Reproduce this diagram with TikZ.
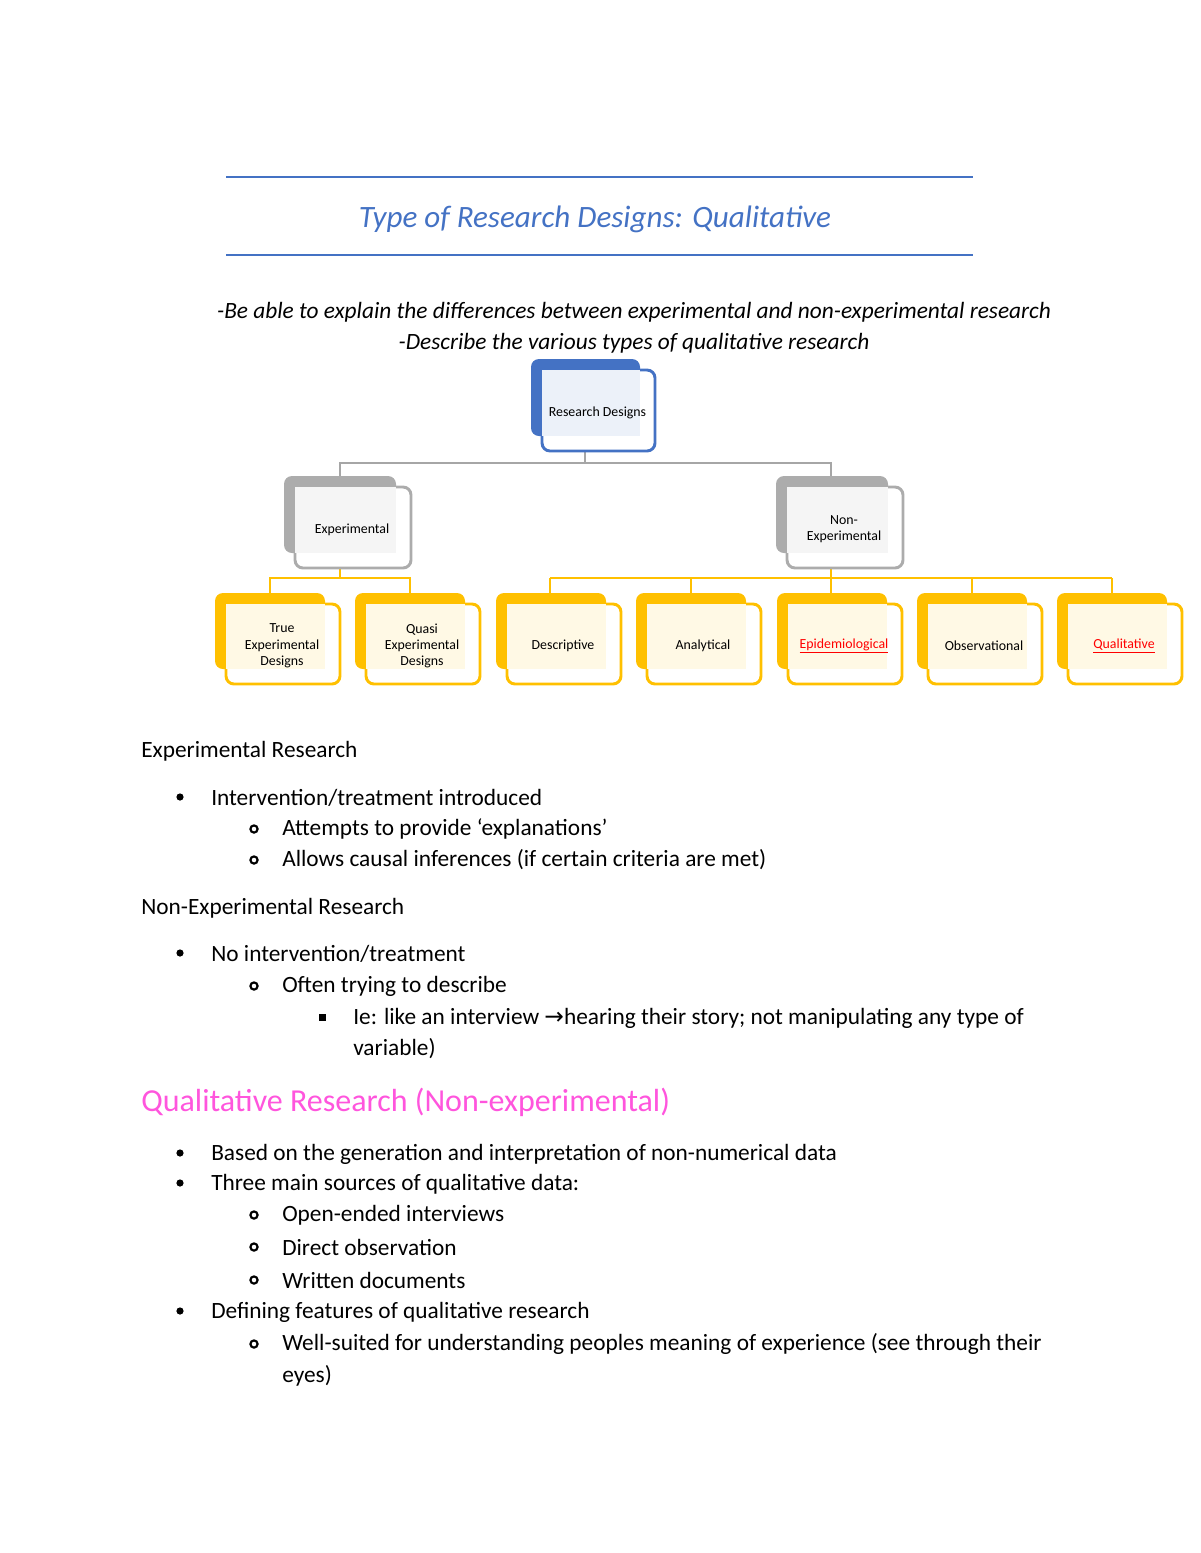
\documentclass[tikz,border=0pt]{standalone}
\usepackage{fontspec}
\setmainfont{Carlito}
\newfontfamily\djv{DejaVu Sans}
\begin{document}
\begin{tikzpicture}[x=0.75pt,y=-0.75pt,
  body/.style={anchor=west,inner sep=0pt,font=\fontsize{17.5}{19}\selectfont},
  boxtxt/.style={align=center,font=\fontsize{10.4}{12.2}\selectfont,inner sep=0pt},
  gline/.style={draw=gray!70,line width=2.2pt},
  yline/.style={draw=yellow!75!orange,line width=2.2pt}]
\definecolor{tblue}{HTML}{4472C4}
\definecolor{ygold}{HTML}{FFC000}
\definecolor{pinkh}{HTML}{FF55DD}
\useasboundingbox (0,0) rectangle (1200,1553);
% title
\draw[tblue,line width=0.8pt] (226,177) -- (973,177);
\draw[tblue,line width=2pt] (226,255) -- (973,255);
\node[tblue,font=\fontsize{23.3}{26}\selectfont\itshape] (title) at (595,219) {Type of Research Designs: Qualitative};
\node[font=\fontsize{17.5}{19}\selectfont\itshape] (s1) at (634,312) {-Be able to explain the differences between experimental and non-experimental research};
\node[font=\fontsize{17.5}{19}\selectfont\itshape] (s2) at (634,343) {-Describe the various types of qualitative research};
% box macro
\newcommand{\dbox}[8]{% name, bx, by, w, h, back col, front fill, text
  \fill[#6,rounded corners=6pt] (#2,#3) rectangle ++(#4,#5);
  \draw[#6,line width=2.2pt,fill=white,rounded corners=6pt] (#2+11,#3+11) rectangle ++(#4+4,#5+4);
  \fill[#7] (#2+11,#3+11) rectangle (#2+#4,#3+#5);
  \node[boxtxt] (#1) at (#2+#4/2+12,#3+#5/2+15) {#8};
}
% connectors
\draw[gline] (585,450) -- (585,463) (340,476) -- (340,463) -- (831,463) -- (831,476);
\draw[yline,draw=ygold] (340,567) -- (340,578) (270,593) -- (270,578) -- (410,578) -- (410,593);
\draw[yline,draw=ygold] (831,567) -- (831,578) (550,578) -- (1112,578);
\foreach \xx in {550,691,831,972,1112} \draw[yline,draw=ygold] (\xx,578) -- (\xx,593);
\dbox{rd}{531}{359}{109}{77}{tblue}{tblue!10}{Research Designs}
\dbox{ex}{284}{476}{112}{77}{gray!65}{gray!8}{Experimental}
\dbox{ne}{776}{476}{112}{77}{gray!65}{gray!8}{Non-\\Experimental}
\dbox{te}{215}{593}{110}{76}{ygold}{ygold!10}{True\\Experimental\\Designs}
\dbox{qe}{355}{593}{110}{76}{ygold}{ygold!10}{Quasi\\Experimental\\Designs}
\dbox{de}{496}{593}{110}{76}{ygold}{ygold!10}{Descriptive}
\dbox{an}{636}{593}{110}{76}{ygold}{ygold!10}{Analytical}
\dbox{ep}{777}{593}{110}{76}{ygold}{ygold!10}{\textcolor{red}{\underline{Epidemiological}}}
\dbox{ob}{917}{593}{110}{76}{ygold}{ygold!10}{Observational}
\dbox{ql}{1057}{593}{110}{76}{ygold}{ygold!10}{\textcolor{red}{\underline{Qualitative}}}
% body text
\newcommand{\bl}[2]{\fill (180,#1) circle (3.6); \node[body] at (211,#1+1) {#2};}
\newcommand{\cl}[2]{\draw[line width=1.6pt] (254,#1+1) circle (3.6); \node[body] at (282,#1+1) {#2};}
\newcommand{\sql}[2]{\fill (319,#1-3.5) rectangle ++(7,7); \node[body] at (353,#1+1) {#2};}
\node[body] (h1) at (141,751) {Experimental Research};
\bl{797}{Intervention/treatment introduced}
\cl{828}{Attempts to provide ‘explanations’}
\cl{859}{Allows causal inferences (if certain criteria are met)}
\node[body] (h2) at (141,908) {Non-Experimental Research};
\bl{953}{No intervention/treatment}
\cl{985}{Often trying to describe}
\sql{1017}{Ie: like an interview {\djv →}hearing their story; not manipulating any type of}
\node[body] at (353,1049) {variable)};
\node[body,pinkh,font=\fontsize{24}{26}\selectfont] (h3) at (141,1102) {Qualitative Research (Non-experimental)};
\bl{1153}{Based on the generation and interpretation of non-numerical data}
\bl{1183}{Three main sources of qualitative data:}
\cl{1214}{Open-ended interviews}
\cl{1246}{Direct observation}
\cl{1279}{Written documents}
\bl{1311}{Defining features of qualitative research}
\cl{1343}{Well-suited for understanding peoples meaning of experience (see through their}
\node[body] at (282,1376) {eyes)};
\end{tikzpicture}
\end{document}
